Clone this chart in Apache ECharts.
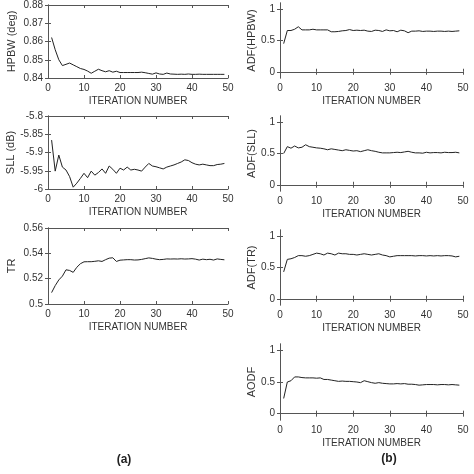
<!DOCTYPE html>
<html><head><meta charset="utf-8">
<script src="https://cdn.jsdelivr.net/npm/echarts@6/dist/echarts.min.js"></script>
<style>html,body{margin:0;padding:0;background:#fff}#c{width:474px;height:474px}</style>
</head><body><div id="c"></div>
<script>
var iterations = [1,2,3,4,5,6,7,8,9,10,11,12,13,14,15,16,17,18,19,20,21,22,23,24,25,26,27,28,29,30,31,32,33,34,35,36,37,38,39,40,41,42,43,44,45,46,47,48,49];
var xTicks = [0,10,20,30,40,50];

var hpbw = [0.8622,0.8555,0.8500,0.8468,0.8475,0.8482,0.8472,0.8462,0.8452,0.8447,0.8438,0.8426,0.8437,0.8448,0.8440,0.8434,0.8440,0.8432,0.8437,0.8430,0.8430,0.8430,0.8430,0.8430,0.8430,0.8432,0.8429,0.8425,0.8421,0.8428,0.8422,0.8420,0.8427,0.8422,0.8421,0.8420,0.8421,0.8420,0.8422,0.8420,0.8420,0.8421,0.8420,0.8420,0.8420,0.8420,0.8420,0.8420,0.8420];
var sll = [-5.866,-5.951,-5.907,-5.940,-5.948,-5.966,-5.995,-5.984,-5.971,-5.957,-5.969,-5.951,-5.962,-5.955,-5.945,-5.957,-5.937,-5.946,-5.957,-5.943,-5.948,-5.940,-5.948,-5.946,-5.948,-5.951,-5.940,-5.930,-5.937,-5.939,-5.942,-5.945,-5.940,-5.937,-5.934,-5.930,-5.926,-5.920,-5.922,-5.928,-5.932,-5.934,-5.932,-5.934,-5.936,-5.936,-5.933,-5.932,-5.930];
var tr = [0.509,0.5145,0.519,0.522,0.527,0.5265,0.525,0.529,0.5318,0.5333,0.5334,0.5334,0.5337,0.5341,0.5336,0.5350,0.5362,0.5365,0.5336,0.5346,0.5348,0.5350,0.5350,0.5347,0.5348,0.5352,0.5358,0.5364,0.5360,0.5354,0.5350,0.5352,0.5356,0.5355,0.5356,0.5355,0.5357,0.5355,0.5356,0.5358,0.5354,0.5347,0.5354,0.5350,0.5353,0.5347,0.5356,0.5352,0.5349];
var adfHpbw = [0.45,0.66,0.66,0.68,0.72,0.67,0.67,0.67,0.68,0.67,0.67,0.67,0.67,0.64,0.64,0.645,0.655,0.66,0.675,0.66,0.665,0.66,0.665,0.65,0.645,0.665,0.66,0.645,0.67,0.655,0.66,0.64,0.665,0.655,0.625,0.65,0.65,0.655,0.645,0.65,0.65,0.645,0.65,0.65,0.645,0.65,0.645,0.65,0.655];
var adfSll = [0.50,0.61,0.585,0.62,0.59,0.60,0.64,0.61,0.60,0.59,0.585,0.575,0.56,0.575,0.565,0.555,0.545,0.56,0.55,0.54,0.545,0.53,0.545,0.56,0.545,0.535,0.52,0.51,0.51,0.51,0.515,0.52,0.515,0.525,0.535,0.52,0.51,0.51,0.505,0.52,0.51,0.515,0.515,0.51,0.52,0.515,0.515,0.52,0.51];
var adfTr = [0.43,0.63,0.64,0.66,0.69,0.69,0.68,0.69,0.71,0.73,0.72,0.70,0.73,0.72,0.70,0.73,0.72,0.72,0.71,0.71,0.70,0.71,0.72,0.71,0.70,0.71,0.72,0.70,0.69,0.67,0.68,0.69,0.69,0.69,0.69,0.69,0.685,0.69,0.69,0.685,0.69,0.685,0.69,0.685,0.69,0.69,0.685,0.67,0.68];
var aodf = [0.24,0.50,0.52,0.58,0.58,0.57,0.565,0.565,0.565,0.56,0.565,0.54,0.54,0.53,0.52,0.51,0.515,0.51,0.51,0.505,0.50,0.49,0.52,0.505,0.49,0.48,0.49,0.48,0.475,0.47,0.47,0.475,0.47,0.475,0.465,0.465,0.46,0.45,0.455,0.46,0.46,0.46,0.455,0.46,0.46,0.455,0.46,0.455,0.45];
var adfTicks = [0,0.5,1];

var xName = 'ITERATION NUMBER';
var panelNames = ['HPBW (deg)','SLL (dB)','TR','ADF(HPBW)','ADF(SLL)','ADF(TR)','AODF'];
var panelLabels = ['(a)','(b)'];

var FONT = 'Liberation Sans';
var AX = '#555', TX = '#333';

var panels = [
  {data: hpbw, grid:{left:48,width:180,top:4,height:74}, y:{min:0.84,max:0.88,interval:0.01}, gap:31},
  {data: sll, grid:{left:48,width:180,top:116,height:73}, y:{min:-6,max:-5.8,interval:0.05}, gap:31},
  {data: tr, grid:{left:48,width:180,top:228,height:76}, y:{min:0.5,max:0.56,interval:0.02}, gap:31},
  {data: adfHpbw, grid:{left:280,width:183,top:3,height:75}, y:{min:-0.1,max:1.1,custom:adfTicks}, gap:20},
  {data: adfSll, grid:{left:280,width:183,top:116,height:75}, y:{min:-0.1,max:1.1,custom:adfTicks}, gap:20},
  {data: adfTr, grid:{left:280,width:183,top:230,height:75}, y:{min:-0.1,max:1.1,custom:adfTicks}, gap:20},
  {data: aodf, grid:{left:280,width:183,top:344,height:76}, y:{min:-0.1,max:1.1,custom:adfTicks}, gap:20}
];

var grids=[], xAxes=[], yAxes=[], series=[];
panels.forEach(function(p, i){
  grids.push(Object.assign({containLabel:false}, p.grid));
  var lineStyle = {color: AX, width: 1};
  var tick = {show:true, inside:true, length:3, lineStyle:{color:AX}};
  xAxes.push({type:'value', gridIndex:i, min:0, max:50, interval:10, position:'bottom',
    axisLine:{show:true, lineStyle:lineStyle}, axisTick:tick, splitLine:{show:false},
    axisLabel:{color:TX, fontFamily:FONT, fontSize:10, margin:5},
    name:xName, nameLocation:'middle', nameGap:18,
    nameTextStyle:{color:TX, fontFamily:FONT, fontSize:10, verticalAlign:'top'}});
  xAxes.push({type:'value', gridIndex:i, min:0, max:50, interval:10, position:'top',
    axisLine:{show:true, lineStyle:lineStyle}, axisTick:tick, splitLine:{show:false},
    axisLabel:{show:false}});
  var yl = {type:'value', gridIndex:i, min:p.y.min, max:p.y.max, position:'left',
    axisLine:{show:true, lineStyle:lineStyle}, splitLine:{show:false},
    axisTick:Object.assign({}, tick),
    axisLabel:{color:TX, fontFamily:FONT, fontSize:10, margin:5},
    name:panelNames[i], nameLocation:'middle', nameGap:p.gap, nameRotate:90,
    nameTextStyle:{color:TX, fontFamily:FONT, fontSize:11}};
  var yr = {type:'value', gridIndex:i, min:p.y.min, max:p.y.max, position:'right',
    axisLine:{show:true, lineStyle:lineStyle}, splitLine:{show:false},
    axisTick:Object.assign({}, tick), axisLabel:{show:false}};
  if (p.y.custom) {
    yl.axisTick.customValues = p.y.custom; yl.axisLabel.customValues = p.y.custom;
    yr.axisTick.customValues = p.y.custom; yr.axisLabel.customValues = p.y.custom;
  } else {
    yl.interval = p.y.interval; yr.interval = p.y.interval;
  }
  yAxes.push(yl); yAxes.push(yr);
  series.push({type:'line', xAxisIndex:2*i, yAxisIndex:2*i, showSymbol:false, symbol:'none',
    animation:false, lineStyle:{color:'#222', width:1},
    data: iterations.map(function(it, k){ return [it, p.data[k]]; })});
});

var chart = echarts.init(document.getElementById('c'));
chart.setOption({
  animation:false,
  backgroundColor:'#fff',
  title:[
    {text:panelLabels[0], left:119, top:449, textAlign:'center', textStyle:{fontFamily:FONT, fontSize:12, fontWeight:'bold', color:'#222'}},
    {text:panelLabels[1], left:384, top:448, textAlign:'center', textStyle:{fontFamily:FONT, fontSize:12, fontWeight:'bold', color:'#222'}}
  ],
  grid:grids, xAxis:xAxes, yAxis:yAxes, series:series
});
</script></body></html>
